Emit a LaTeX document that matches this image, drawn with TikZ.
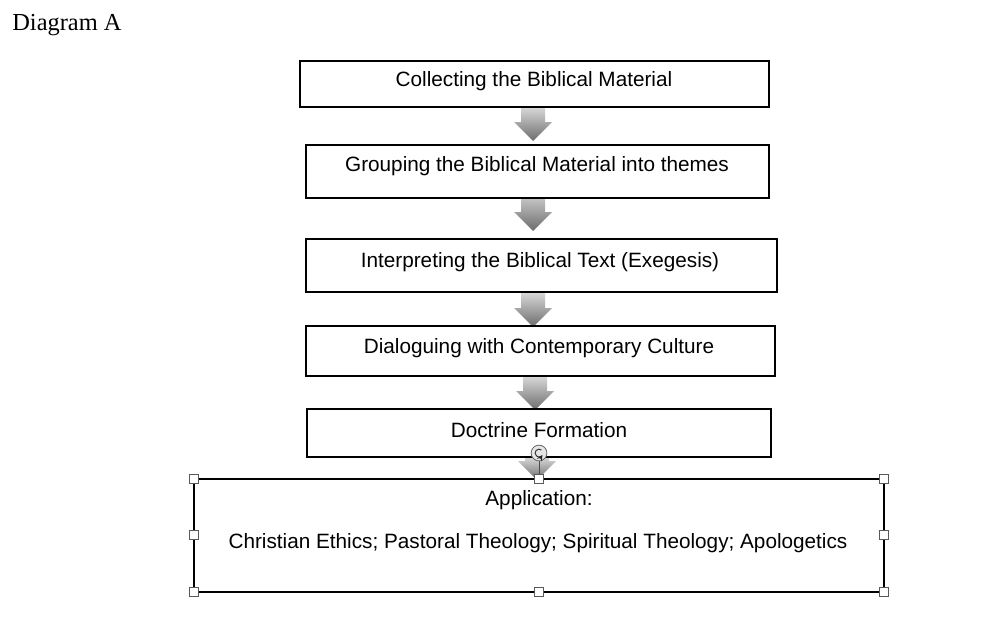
\documentclass[tikz,border=0pt]{standalone}
\usepackage{fontspec}
\setmainfont{Liberation Sans}
\newfontfamily\serif{Liberation Serif}
\begin{document}
\begin{tikzpicture}[x=0.02cm,y=-0.02cm,
  box/.style={draw=black,line width=0.8pt,fill=white},
  txt/.style={font=\fontsize{11.8pt}{14pt}\selectfont,inner sep=0pt},
  handle/.style={draw=gray!70!black,fill=white,line width=0.4pt,minimum size=5pt,inner sep=0pt,rectangle}]
\useasboundingbox (0,0) rectangle (1000,619);
\node[anchor=west,inner sep=0pt,font=\serif\fontsize{13.9pt}{16pt}\selectfont] (title) at (12,25) {Diagram A};
\newcommand{\dnarrow}[3]{% x center, top, bottom
  \shade[top color=gray!30,bottom color=gray!85!black]
    (#1-12,#2) -- (#1+12,#2) -- (#1+12,#3-19) -- (#1+19,#3-19) -- (#1,#3) -- (#1-19,#3-19) -- (#1-12,#3-19) -- cycle;}
\dnarrow{533}{107}{141}
\dnarrow{533}{190}{231}
\dnarrow{533}{292}{327}
\dnarrow{535}{376}{410}
\dnarrow{537}{457}{480}
\draw[box] (300,61) rectangle (769,107);
\node[txt] (b1) at (534,81) {Collecting the Biblical Material};
\draw[box] (306,145) rectangle (769,198);
\node[txt] (b2) at (537,166) {Grouping the Biblical Material into themes};
\draw[box] (306,239) rectangle (777,292);
\node[txt] (b3) at (540,262) {Interpreting the Biblical Text (Exegesis)};
\draw[box] (306,326) rectangle (775,376);
\node[txt] (b4) at (539,348) {Dialoguing with Contemporary Culture};
\draw[box] (307,409) rectangle (771,457);
\node[txt] (b5) at (539,430) {Doctrine Formation};
\draw[black,line width=0.8pt] (194,479) rectangle (884,592);
\node[txt] (b6a) at (539,500) {Application:};
\node[txt] (b6b) at (538,543) {Christian Ethics; Pastoral Theology; Spiritual Theology; Apologetics};
\draw[gray!60!black,line width=0.5pt] (539,459) -- (539,479);
\node[circle,draw=gray!70!black,fill=gray!20,minimum size=9pt,inner sep=0pt] (rot) at (539,453) {};
\draw[gray!30!black,line width=0.5pt,->,>=stealth] (rot.center) ++(50:2.2pt) arc (50:330:2.2pt);
\foreach \x/\y [count=\i] in {194/479,539/479,884/479,194/535,884/535,194/592,539/592,884/592}
  \node[handle] (h\i) at (\x,\y) {};
\end{tikzpicture}
\end{document}
